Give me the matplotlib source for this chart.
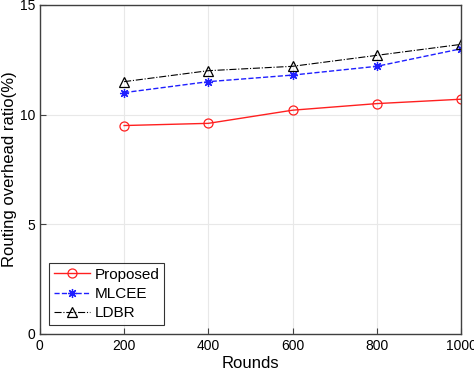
import numpy as np
import matplotlib
matplotlib.use('Agg')
import matplotlib.pyplot as plt

plt.rcParams['font.family'] = ['Liberation Sans', 'DejaVu Sans']

##data
rounds = [200, 400, 600, 800, 1000]
proposed = [9.5, 9.6, 10.2, 10.5, 10.7]
mlcee = [11.0, 11.5, 11.8, 12.2, 13.0]
ldbr = [11.5, 12.0, 12.2, 12.7, 13.2]

fig = plt.figure(figsize=(4.74, 3.74), dpi=100)
ax = fig.add_axes([0.084, 0.107, 0.889, 0.880])

ax.plot(rounds, proposed, '-', color='#ff2020', lw=1.0, marker='o',
        mfc='none', ms=6.5, mew=0.9, label='Proposed')
ax.plot(rounds, mlcee, '--', color='#1f1fff', lw=1.0, marker=(8, 2, 0),
        ms=6.5, mew=0.9, label='MLCEE')
ax.plot(rounds, ldbr, '-.', color='black', lw=0.8, marker='^',
        mfc='none', ms=6.5, mew=0.9, label='LDBR')

ax.set_xlim(0, 1000)
ax.set_ylim(0, 15)
ax.set_xticks([0, 200, 400, 600, 800, 1000])
ax.set_yticks([0, 5, 10, 15])
ax.grid(True, color='#e8e8e8', lw=0.8)
ax.set_axisbelow(True)
ax.tick_params(direction='in', labelsize=10, length=4, color='#404040')
for s in ax.spines.values():
    s.set_color('#404040')
    s.set_linewidth(1.0)

ax.set_xlabel('Rounds', fontsize=12, labelpad=2)
ax.set_ylabel('Routing overhead ratio(%)', fontsize=12, labelpad=2)

leg = ax.legend(loc='lower left', fontsize=11, fancybox=False, edgecolor='black',
                handlelength=2.4, handletextpad=0.3, borderaxespad=0.6,
                labelspacing=0.35, borderpad=0.3)
leg.get_frame().set_linewidth(0.8)

plt.savefig('out.png', dpi=100)
